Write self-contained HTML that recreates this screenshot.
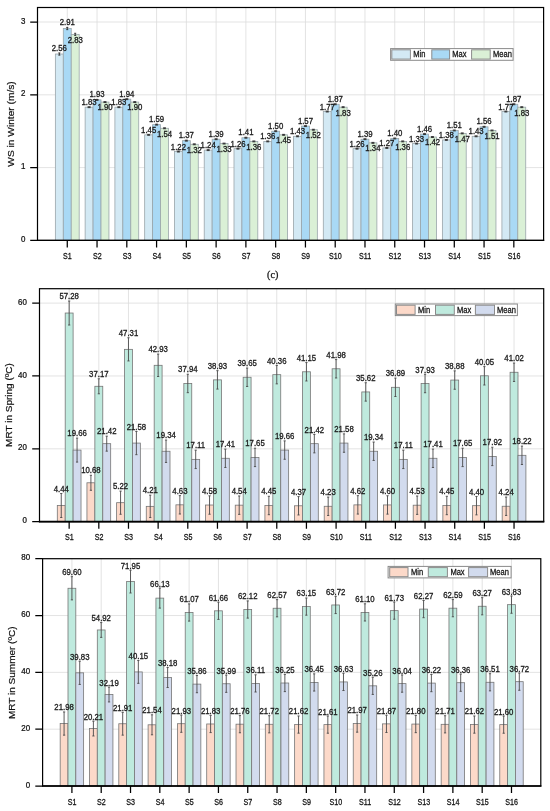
<!DOCTYPE html>
<html><head><meta charset="utf-8"><title>Figure</title>
<style>html,body{margin:0;padding:0;background:#fff}svg{display:block}</style></head>
<body><svg width="550" height="811" viewBox="0 0 550 811" font-family='"Liberation Sans", sans-serif'>
<rect width="550" height="811" fill="#fff"/>
<g>
<path d="M67.27 7.50V240.40M97.04 7.50V240.40M126.81 7.50V240.40M156.58 7.50V240.40M186.35 7.50V240.40M216.12 7.50V240.40M245.89 7.50V240.40M275.66 7.50V240.40M305.44 7.50V240.40M335.21 7.50V240.40M364.98 7.50V240.40M394.75 7.50V240.40M424.52 7.50V240.40M454.29 7.50V240.40M484.06 7.50V240.40M513.83 7.50V240.40M37.50 167.60H543.60M37.50 94.80H543.60M37.50 22.00H543.60" stroke="#dcdcdc" stroke-width="0.8" fill="none"/>
<rect x="55.36" y="54.03" width="7.94" height="186.37" fill="#d3e9f4" stroke="#9aa5aa" stroke-width="0.8"/>
<rect x="63.30" y="28.55" width="7.94" height="211.85" fill="#a9d9f5" stroke="#9aa5aa" stroke-width="0.8"/>
<rect x="71.24" y="34.38" width="7.94" height="206.02" fill="#daf0d6" stroke="#9aa5aa" stroke-width="0.8"/>
<rect x="85.13" y="107.18" width="7.94" height="133.22" fill="#d3e9f4" stroke="#9aa5aa" stroke-width="0.8"/>
<rect x="93.07" y="99.90" width="7.94" height="140.50" fill="#a9d9f5" stroke="#9aa5aa" stroke-width="0.8"/>
<rect x="101.01" y="102.08" width="7.94" height="138.32" fill="#daf0d6" stroke="#9aa5aa" stroke-width="0.8"/>
<rect x="114.90" y="107.18" width="7.94" height="133.22" fill="#d3e9f4" stroke="#9aa5aa" stroke-width="0.8"/>
<rect x="122.84" y="99.17" width="7.94" height="141.23" fill="#a9d9f5" stroke="#9aa5aa" stroke-width="0.8"/>
<rect x="130.78" y="102.08" width="7.94" height="138.32" fill="#daf0d6" stroke="#9aa5aa" stroke-width="0.8"/>
<rect x="144.67" y="134.84" width="7.94" height="105.56" fill="#d3e9f4" stroke="#9aa5aa" stroke-width="0.8"/>
<rect x="152.61" y="124.65" width="7.94" height="115.75" fill="#a9d9f5" stroke="#9aa5aa" stroke-width="0.8"/>
<rect x="160.55" y="128.29" width="7.94" height="112.11" fill="#daf0d6" stroke="#9aa5aa" stroke-width="0.8"/>
<rect x="174.44" y="151.58" width="7.94" height="88.82" fill="#d3e9f4" stroke="#9aa5aa" stroke-width="0.8"/>
<rect x="182.38" y="140.66" width="7.94" height="99.74" fill="#a9d9f5" stroke="#9aa5aa" stroke-width="0.8"/>
<rect x="190.32" y="144.30" width="7.94" height="96.10" fill="#daf0d6" stroke="#9aa5aa" stroke-width="0.8"/>
<rect x="204.22" y="150.13" width="7.94" height="90.27" fill="#d3e9f4" stroke="#9aa5aa" stroke-width="0.8"/>
<rect x="212.15" y="139.21" width="7.94" height="101.19" fill="#a9d9f5" stroke="#9aa5aa" stroke-width="0.8"/>
<rect x="220.09" y="143.58" width="7.94" height="96.82" fill="#daf0d6" stroke="#9aa5aa" stroke-width="0.8"/>
<rect x="233.99" y="148.67" width="7.94" height="91.73" fill="#d3e9f4" stroke="#9aa5aa" stroke-width="0.8"/>
<rect x="241.92" y="137.75" width="7.94" height="102.65" fill="#a9d9f5" stroke="#9aa5aa" stroke-width="0.8"/>
<rect x="249.86" y="141.39" width="7.94" height="99.01" fill="#daf0d6" stroke="#9aa5aa" stroke-width="0.8"/>
<rect x="263.76" y="141.39" width="7.94" height="99.01" fill="#d3e9f4" stroke="#9aa5aa" stroke-width="0.8"/>
<rect x="271.70" y="131.20" width="7.94" height="109.20" fill="#a9d9f5" stroke="#9aa5aa" stroke-width="0.8"/>
<rect x="279.63" y="134.84" width="7.94" height="105.56" fill="#daf0d6" stroke="#9aa5aa" stroke-width="0.8"/>
<rect x="293.53" y="136.30" width="7.94" height="104.10" fill="#d3e9f4" stroke="#9aa5aa" stroke-width="0.8"/>
<rect x="301.47" y="126.10" width="7.94" height="114.30" fill="#a9d9f5" stroke="#9aa5aa" stroke-width="0.8"/>
<rect x="309.40" y="129.74" width="7.94" height="110.66" fill="#daf0d6" stroke="#9aa5aa" stroke-width="0.8"/>
<rect x="323.30" y="111.54" width="7.94" height="128.86" fill="#d3e9f4" stroke="#9aa5aa" stroke-width="0.8"/>
<rect x="331.24" y="104.26" width="7.94" height="136.14" fill="#a9d9f5" stroke="#9aa5aa" stroke-width="0.8"/>
<rect x="339.18" y="107.18" width="7.94" height="133.22" fill="#daf0d6" stroke="#9aa5aa" stroke-width="0.8"/>
<rect x="353.07" y="148.67" width="7.94" height="91.73" fill="#d3e9f4" stroke="#9aa5aa" stroke-width="0.8"/>
<rect x="361.01" y="139.21" width="7.94" height="101.19" fill="#a9d9f5" stroke="#9aa5aa" stroke-width="0.8"/>
<rect x="368.95" y="142.85" width="7.94" height="97.55" fill="#daf0d6" stroke="#9aa5aa" stroke-width="0.8"/>
<rect x="382.84" y="147.94" width="7.94" height="92.46" fill="#d3e9f4" stroke="#9aa5aa" stroke-width="0.8"/>
<rect x="390.78" y="138.48" width="7.94" height="101.92" fill="#a9d9f5" stroke="#9aa5aa" stroke-width="0.8"/>
<rect x="398.72" y="141.39" width="7.94" height="99.01" fill="#daf0d6" stroke="#9aa5aa" stroke-width="0.8"/>
<rect x="412.61" y="143.58" width="7.94" height="96.82" fill="#d3e9f4" stroke="#9aa5aa" stroke-width="0.8"/>
<rect x="420.55" y="134.11" width="7.94" height="106.29" fill="#a9d9f5" stroke="#9aa5aa" stroke-width="0.8"/>
<rect x="428.49" y="137.02" width="7.94" height="103.38" fill="#daf0d6" stroke="#9aa5aa" stroke-width="0.8"/>
<rect x="442.38" y="139.94" width="7.94" height="100.46" fill="#d3e9f4" stroke="#9aa5aa" stroke-width="0.8"/>
<rect x="450.32" y="130.47" width="7.94" height="109.93" fill="#a9d9f5" stroke="#9aa5aa" stroke-width="0.8"/>
<rect x="458.26" y="133.38" width="7.94" height="107.02" fill="#daf0d6" stroke="#9aa5aa" stroke-width="0.8"/>
<rect x="472.15" y="136.30" width="7.94" height="104.10" fill="#d3e9f4" stroke="#9aa5aa" stroke-width="0.8"/>
<rect x="480.09" y="126.83" width="7.94" height="113.57" fill="#a9d9f5" stroke="#9aa5aa" stroke-width="0.8"/>
<rect x="488.03" y="130.47" width="7.94" height="109.93" fill="#daf0d6" stroke="#9aa5aa" stroke-width="0.8"/>
<rect x="501.92" y="111.54" width="7.94" height="128.86" fill="#d3e9f4" stroke="#9aa5aa" stroke-width="0.8"/>
<rect x="509.86" y="104.26" width="7.94" height="136.14" fill="#a9d9f5" stroke="#9aa5aa" stroke-width="0.8"/>
<rect x="517.80" y="107.18" width="7.94" height="133.22" fill="#daf0d6" stroke="#9aa5aa" stroke-width="0.8"/>
<path d="M59.33 52.93V55.13M58.33 52.93h2.00M58.33 55.13h2.00M67.27 27.45V29.65M66.27 27.45h2.00M66.27 29.65h2.00M75.21 33.28V35.48M74.21 33.28h2.00M74.21 35.48h2.00M89.10 106.73V107.63M87.60 106.73h3.00M87.60 107.63h3.00M97.04 99.45V100.35M95.54 99.45h3.00M95.54 100.35h3.00M104.98 101.63V102.53M103.48 101.63h3.00M103.48 102.53h3.00M118.87 106.73V107.63M117.37 106.73h3.00M117.37 107.63h3.00M126.81 98.72V99.62M125.31 98.72h3.00M125.31 99.62h3.00M134.75 101.63V102.53M133.25 101.63h3.00M133.25 102.53h3.00M148.64 134.39V135.29M147.14 134.39h3.00M147.14 135.29h3.00M156.58 124.20V125.10M155.08 124.20h3.00M155.08 125.10h3.00M164.52 127.84V128.74M163.02 127.84h3.00M163.02 128.74h3.00M178.41 151.13V152.03M176.91 151.13h3.00M176.91 152.03h3.00M186.35 140.21V141.11M184.85 140.21h3.00M184.85 141.11h3.00M194.29 143.85V144.75M192.79 143.85h3.00M192.79 144.75h3.00M208.18 149.68V150.58M206.68 149.68h3.00M206.68 150.58h3.00M216.12 138.76V139.66M214.62 138.76h3.00M214.62 139.66h3.00M224.06 143.13V144.03M222.56 143.13h3.00M222.56 144.03h3.00M237.96 148.22V149.12M236.46 148.22h3.00M236.46 149.12h3.00M245.89 137.30V138.20M244.39 137.30h3.00M244.39 138.20h3.00M253.83 140.94V141.84M252.33 140.94h3.00M252.33 141.84h3.00M267.73 140.94V141.84M266.23 140.94h3.00M266.23 141.84h3.00M275.66 130.75V131.65M274.16 130.75h3.00M274.16 131.65h3.00M283.60 134.39V135.29M282.10 134.39h3.00M282.10 135.29h3.00M297.50 135.85V136.75M296.00 135.85h3.00M296.00 136.75h3.00M305.44 125.65V126.55M303.94 125.65h3.00M303.94 126.55h3.00M313.37 129.29V130.19M311.87 129.29h3.00M311.87 130.19h3.00M327.27 111.09V111.99M325.77 111.09h3.00M325.77 111.99h3.00M335.21 103.81V104.71M333.71 103.81h3.00M333.71 104.71h3.00M343.14 106.73V107.63M341.64 106.73h3.00M341.64 107.63h3.00M357.04 148.22V149.12M355.54 148.22h3.00M355.54 149.12h3.00M364.98 138.76V139.66M363.48 138.76h3.00M363.48 139.66h3.00M372.92 142.40V143.30M371.42 142.40h3.00M371.42 143.30h3.00M386.81 147.49V148.39M385.31 147.49h3.00M385.31 148.39h3.00M394.75 138.03V138.93M393.25 138.03h3.00M393.25 138.93h3.00M402.69 140.94V141.84M401.19 140.94h3.00M401.19 141.84h3.00M416.58 143.13V144.03M415.08 143.13h3.00M415.08 144.03h3.00M424.52 133.66V134.56M423.02 133.66h3.00M423.02 134.56h3.00M432.46 136.57V137.47M430.96 136.57h3.00M430.96 137.47h3.00M446.35 139.49V140.39M444.85 139.49h3.00M444.85 140.39h3.00M454.29 130.02V130.92M452.79 130.02h3.00M452.79 130.92h3.00M462.23 132.93V133.83M460.73 132.93h3.00M460.73 133.83h3.00M476.12 135.85V136.75M474.62 135.85h3.00M474.62 136.75h3.00M484.06 126.38V127.28M482.56 126.38h3.00M482.56 127.28h3.00M492.00 130.02V130.92M490.50 130.02h3.00M490.50 130.92h3.00M505.89 111.09V111.99M504.39 111.09h3.00M504.39 111.99h3.00M513.83 103.81V104.71M512.33 103.81h3.00M512.33 104.71h3.00M521.77 106.73V107.63M520.27 106.73h3.00M520.27 107.63h3.00" stroke="#2a2a2a" stroke-width="0.9" fill="none"/>
<g font-size="8.2" text-anchor="middle" fill="#1a1a1a" stroke="#1a1a1a" stroke-width="0.3"><text transform="translate(59.33 50.93) scale(0.95 1)" text-anchor="middle">2.56</text><text transform="translate(67.27 25.45) scale(0.95 1)" text-anchor="middle">2.91</text><text transform="translate(75.21 42.78) scale(0.95 1)" text-anchor="middle">2.83</text><text transform="translate(89.10 105.28) scale(0.95 1)" text-anchor="middle">1.83</text><text transform="translate(97.04 97.30) scale(0.95 1)" text-anchor="middle">1.93</text><text transform="translate(104.98 110.48) scale(0.95 1)" text-anchor="middle">1.90</text><text transform="translate(118.87 105.28) scale(0.95 1)" text-anchor="middle">1.83</text><text transform="translate(126.81 96.57) scale(0.95 1)" text-anchor="middle">1.94</text><text transform="translate(134.75 110.48) scale(0.95 1)" text-anchor="middle">1.90</text><text transform="translate(148.64 132.94) scale(0.95 1)" text-anchor="middle">1.45</text><text transform="translate(156.58 122.05) scale(0.95 1)" text-anchor="middle">1.59</text><text transform="translate(164.52 136.69) scale(0.95 1)" text-anchor="middle">1.54</text><text transform="translate(178.41 149.68) scale(0.95 1)" text-anchor="middle">1.22</text><text transform="translate(186.35 138.06) scale(0.95 1)" text-anchor="middle">1.37</text><text transform="translate(194.29 152.70) scale(0.95 1)" text-anchor="middle">1.32</text><text transform="translate(208.18 148.23) scale(0.95 1)" text-anchor="middle">1.24</text><text transform="translate(216.12 136.61) scale(0.95 1)" text-anchor="middle">1.39</text><text transform="translate(224.06 151.98) scale(0.95 1)" text-anchor="middle">1.33</text><text transform="translate(237.96 146.77) scale(0.95 1)" text-anchor="middle">1.26</text><text transform="translate(245.89 135.15) scale(0.95 1)" text-anchor="middle">1.41</text><text transform="translate(253.83 149.79) scale(0.95 1)" text-anchor="middle">1.36</text><text transform="translate(267.73 139.49) scale(0.95 1)" text-anchor="middle">1.36</text><text transform="translate(275.66 128.60) scale(0.95 1)" text-anchor="middle">1.50</text><text transform="translate(283.60 143.24) scale(0.95 1)" text-anchor="middle">1.45</text><text transform="translate(297.50 134.40) scale(0.95 1)" text-anchor="middle">1.43</text><text transform="translate(305.44 123.50) scale(0.95 1)" text-anchor="middle">1.57</text><text transform="translate(313.37 138.14) scale(0.95 1)" text-anchor="middle">1.52</text><text transform="translate(327.27 109.64) scale(0.95 1)" text-anchor="middle">1.77</text><text transform="translate(335.21 101.66) scale(0.95 1)" text-anchor="middle">1.87</text><text transform="translate(343.14 115.58) scale(0.95 1)" text-anchor="middle">1.83</text><text transform="translate(357.04 146.77) scale(0.95 1)" text-anchor="middle">1.26</text><text transform="translate(364.98 136.61) scale(0.95 1)" text-anchor="middle">1.39</text><text transform="translate(372.92 151.25) scale(0.95 1)" text-anchor="middle">1.34</text><text transform="translate(386.81 146.04) scale(0.95 1)" text-anchor="middle">1.27</text><text transform="translate(394.75 135.88) scale(0.95 1)" text-anchor="middle">1.40</text><text transform="translate(402.69 149.79) scale(0.95 1)" text-anchor="middle">1.36</text><text transform="translate(416.58 141.68) scale(0.95 1)" text-anchor="middle">1.33</text><text transform="translate(424.52 131.51) scale(0.95 1)" text-anchor="middle">1.46</text><text transform="translate(432.46 145.42) scale(0.95 1)" text-anchor="middle">1.42</text><text transform="translate(446.35 138.04) scale(0.95 1)" text-anchor="middle">1.38</text><text transform="translate(454.29 127.87) scale(0.95 1)" text-anchor="middle">1.51</text><text transform="translate(462.23 141.78) scale(0.95 1)" text-anchor="middle">1.47</text><text transform="translate(476.12 134.40) scale(0.95 1)" text-anchor="middle">1.43</text><text transform="translate(484.06 124.23) scale(0.95 1)" text-anchor="middle">1.56</text><text transform="translate(492.00 138.87) scale(0.95 1)" text-anchor="middle">1.51</text><text transform="translate(505.89 109.64) scale(0.95 1)" text-anchor="middle">1.77</text><text transform="translate(513.83 101.66) scale(0.95 1)" text-anchor="middle">1.87</text><text transform="translate(521.77 115.58) scale(0.95 1)" text-anchor="middle">1.83</text></g>
<rect x="37.50" y="7.50" width="506.10" height="232.90" fill="none" stroke="#000" stroke-width="1.2"/>
<path d="M36.90 240.40H544.20" stroke="#000" stroke-width="1.3" fill="none"/>
<path d="M67.27 240.40v7M97.04 240.40v7M126.81 240.40v7M156.58 240.40v7M186.35 240.40v7M216.12 240.40v7M245.89 240.40v7M275.66 240.40v7M305.44 240.40v7M335.21 240.40v7M364.98 240.40v7M394.75 240.40v7M424.52 240.40v7M454.29 240.40v7M484.06 240.40v7M513.83 240.40v7M37.50 240.40h-7.3M37.50 167.60h-7.3M37.50 94.80h-7.3M37.50 22.00h-7.3" stroke="#000" stroke-width="1.25" fill="none"/>
<g font-size="8.2" fill="#111" stroke="#111" stroke-width="0.25"><text transform="translate(67.47 258.90) scale(0.87 1)" text-anchor="middle">S1</text><text transform="translate(97.24 258.90) scale(0.87 1)" text-anchor="middle">S2</text><text transform="translate(127.01 258.90) scale(0.87 1)" text-anchor="middle">S3</text><text transform="translate(156.78 258.90) scale(0.87 1)" text-anchor="middle">S4</text><text transform="translate(186.55 258.90) scale(0.87 1)" text-anchor="middle">S5</text><text transform="translate(216.32 258.90) scale(0.87 1)" text-anchor="middle">S6</text><text transform="translate(246.09 258.90) scale(0.87 1)" text-anchor="middle">S7</text><text transform="translate(275.86 258.90) scale(0.87 1)" text-anchor="middle">S8</text><text transform="translate(305.64 258.90) scale(0.87 1)" text-anchor="middle">S9</text><text transform="translate(335.41 258.90) scale(0.87 1)" text-anchor="middle">S10</text><text transform="translate(365.18 258.90) scale(0.87 1)" text-anchor="middle">S11</text><text transform="translate(394.95 258.90) scale(0.87 1)" text-anchor="middle">S12</text><text transform="translate(424.72 258.90) scale(0.87 1)" text-anchor="middle">S13</text><text transform="translate(454.49 258.90) scale(0.87 1)" text-anchor="middle">S14</text><text transform="translate(484.26 258.90) scale(0.87 1)" text-anchor="middle">S15</text><text transform="translate(514.03 258.90) scale(0.87 1)" text-anchor="middle">S16</text><text transform="translate(25.50 242.00) scale(0.97 1)" text-anchor="end">0</text><text transform="translate(25.50 169.20) scale(0.97 1)" text-anchor="end">1</text><text transform="translate(25.50 96.40) scale(0.97 1)" text-anchor="end">2</text><text transform="translate(25.50 23.60) scale(0.97 1)" text-anchor="end">3</text></g>
<text transform="translate(14.30 124.00) rotate(-90) scale(1.07 1)" text-anchor="middle" font-size="9.53" fill="#111" stroke="#111" stroke-width="0.2">WS in Winter (m/s)</text>
<rect x="390.60" y="48.60" width="122.50" height="11.70" fill="#fff" stroke="#8a8a8a" stroke-width="1"/>
<rect x="391.80" y="49.80" width="18.60" height="9.30" fill="#d3e9f4" stroke="#8a8a8a" stroke-width="1"/>
<text transform="translate(413.20 57.30) scale(0.92 1)" font-size="8.2" fill="#111" stroke="#111" stroke-width="0.25">Min</text>
<rect x="431.80" y="49.80" width="17.80" height="9.30" fill="#a9d9f5" stroke="#8a8a8a" stroke-width="1"/>
<text transform="translate(452.20 57.30) scale(0.92 1)" font-size="8.2" fill="#111" stroke="#111" stroke-width="0.25">Max</text>
<rect x="471.60" y="49.80" width="18.60" height="9.30" fill="#daf0d6" stroke="#8a8a8a" stroke-width="1"/>
<text transform="translate(493.00 57.30) scale(0.92 1)" font-size="8.2" fill="#111" stroke="#111" stroke-width="0.25">Mean</text>
</g>
<g>
<path d="M69.16 288.70V521.70M98.82 288.70V521.70M128.48 288.70V521.70M158.14 288.70V521.70M187.79 288.70V521.70M217.45 288.70V521.70M247.11 288.70V521.70M276.77 288.70V521.70M306.43 288.70V521.70M336.09 288.70V521.70M365.75 288.70V521.70M395.41 288.70V521.70M425.06 288.70V521.70M454.72 288.70V521.70M484.38 288.70V521.70M514.04 288.70V521.70M39.50 448.84H543.70M39.50 375.98H543.70M39.50 303.12H543.70" stroke="#dcdcdc" stroke-width="0.8" fill="none"/>
<rect x="57.30" y="505.53" width="7.91" height="16.17" fill="#fcd9c9" stroke="#767676" stroke-width="0.8"/>
<rect x="65.20" y="313.03" width="7.91" height="208.67" fill="#bfeade" stroke="#767676" stroke-width="0.8"/>
<rect x="73.11" y="450.08" width="7.91" height="71.62" fill="#d2dbee" stroke="#767676" stroke-width="0.8"/>
<rect x="86.95" y="482.79" width="7.91" height="38.91" fill="#fcd9c9" stroke="#767676" stroke-width="0.8"/>
<rect x="94.86" y="386.29" width="7.91" height="135.41" fill="#bfeade" stroke="#767676" stroke-width="0.8"/>
<rect x="102.77" y="443.67" width="7.91" height="78.03" fill="#d2dbee" stroke="#767676" stroke-width="0.8"/>
<rect x="116.61" y="502.68" width="7.91" height="19.02" fill="#fcd9c9" stroke="#767676" stroke-width="0.8"/>
<rect x="124.52" y="349.35" width="7.91" height="172.35" fill="#bfeade" stroke="#767676" stroke-width="0.8"/>
<rect x="132.43" y="443.08" width="7.91" height="78.62" fill="#d2dbee" stroke="#767676" stroke-width="0.8"/>
<rect x="146.27" y="506.36" width="7.91" height="15.34" fill="#fcd9c9" stroke="#767676" stroke-width="0.8"/>
<rect x="154.18" y="365.31" width="7.91" height="156.39" fill="#bfeade" stroke="#767676" stroke-width="0.8"/>
<rect x="162.09" y="451.24" width="7.91" height="70.46" fill="#d2dbee" stroke="#767676" stroke-width="0.8"/>
<rect x="175.93" y="504.83" width="7.91" height="16.87" fill="#fcd9c9" stroke="#767676" stroke-width="0.8"/>
<rect x="183.84" y="383.48" width="7.91" height="138.22" fill="#bfeade" stroke="#767676" stroke-width="0.8"/>
<rect x="191.75" y="459.37" width="7.91" height="62.33" fill="#d2dbee" stroke="#767676" stroke-width="0.8"/>
<rect x="205.59" y="505.02" width="7.91" height="16.68" fill="#fcd9c9" stroke="#767676" stroke-width="0.8"/>
<rect x="213.50" y="379.88" width="7.91" height="141.82" fill="#bfeade" stroke="#767676" stroke-width="0.8"/>
<rect x="221.41" y="458.28" width="7.91" height="63.42" fill="#d2dbee" stroke="#767676" stroke-width="0.8"/>
<rect x="235.25" y="505.16" width="7.91" height="16.54" fill="#fcd9c9" stroke="#767676" stroke-width="0.8"/>
<rect x="243.16" y="377.26" width="7.91" height="144.44" fill="#bfeade" stroke="#767676" stroke-width="0.8"/>
<rect x="251.07" y="457.40" width="7.91" height="64.30" fill="#d2dbee" stroke="#767676" stroke-width="0.8"/>
<rect x="264.91" y="505.49" width="7.91" height="16.21" fill="#fcd9c9" stroke="#767676" stroke-width="0.8"/>
<rect x="272.82" y="374.67" width="7.91" height="147.03" fill="#bfeade" stroke="#767676" stroke-width="0.8"/>
<rect x="280.73" y="450.08" width="7.91" height="71.62" fill="#d2dbee" stroke="#767676" stroke-width="0.8"/>
<rect x="294.57" y="505.78" width="7.91" height="15.92" fill="#fcd9c9" stroke="#767676" stroke-width="0.8"/>
<rect x="302.47" y="371.79" width="7.91" height="149.91" fill="#bfeade" stroke="#767676" stroke-width="0.8"/>
<rect x="310.38" y="443.67" width="7.91" height="78.03" fill="#d2dbee" stroke="#767676" stroke-width="0.8"/>
<rect x="324.22" y="506.29" width="7.91" height="15.41" fill="#fcd9c9" stroke="#767676" stroke-width="0.8"/>
<rect x="332.13" y="368.77" width="7.91" height="152.93" fill="#bfeade" stroke="#767676" stroke-width="0.8"/>
<rect x="340.04" y="443.08" width="7.91" height="78.62" fill="#d2dbee" stroke="#767676" stroke-width="0.8"/>
<rect x="353.88" y="504.87" width="7.91" height="16.83" fill="#fcd9c9" stroke="#767676" stroke-width="0.8"/>
<rect x="361.79" y="391.94" width="7.91" height="129.76" fill="#bfeade" stroke="#767676" stroke-width="0.8"/>
<rect x="369.70" y="451.24" width="7.91" height="70.46" fill="#d2dbee" stroke="#767676" stroke-width="0.8"/>
<rect x="383.54" y="504.94" width="7.91" height="16.76" fill="#fcd9c9" stroke="#767676" stroke-width="0.8"/>
<rect x="391.45" y="387.31" width="7.91" height="134.39" fill="#bfeade" stroke="#767676" stroke-width="0.8"/>
<rect x="399.36" y="459.37" width="7.91" height="62.33" fill="#d2dbee" stroke="#767676" stroke-width="0.8"/>
<rect x="413.20" y="505.20" width="7.91" height="16.50" fill="#fcd9c9" stroke="#767676" stroke-width="0.8"/>
<rect x="421.11" y="383.52" width="7.91" height="138.18" fill="#bfeade" stroke="#767676" stroke-width="0.8"/>
<rect x="429.02" y="458.28" width="7.91" height="63.42" fill="#d2dbee" stroke="#767676" stroke-width="0.8"/>
<rect x="442.86" y="505.49" width="7.91" height="16.21" fill="#fcd9c9" stroke="#767676" stroke-width="0.8"/>
<rect x="450.77" y="380.06" width="7.91" height="141.64" fill="#bfeade" stroke="#767676" stroke-width="0.8"/>
<rect x="458.68" y="457.40" width="7.91" height="64.30" fill="#d2dbee" stroke="#767676" stroke-width="0.8"/>
<rect x="472.52" y="505.67" width="7.91" height="16.03" fill="#fcd9c9" stroke="#767676" stroke-width="0.8"/>
<rect x="480.43" y="375.80" width="7.91" height="145.90" fill="#bfeade" stroke="#767676" stroke-width="0.8"/>
<rect x="488.34" y="456.42" width="7.91" height="65.28" fill="#d2dbee" stroke="#767676" stroke-width="0.8"/>
<rect x="502.18" y="506.25" width="7.91" height="15.45" fill="#fcd9c9" stroke="#767676" stroke-width="0.8"/>
<rect x="510.09" y="372.26" width="7.91" height="149.44" fill="#bfeade" stroke="#767676" stroke-width="0.8"/>
<rect x="518.00" y="455.32" width="7.91" height="66.38" fill="#d2dbee" stroke="#767676" stroke-width="0.8"/>
<path d="M61.25 493.53V517.53M60.15 493.53h2.20M60.15 517.53h2.20M69.16 301.03V325.03M68.06 301.03h2.20M68.06 325.03h2.20M77.07 438.08V462.08M75.97 438.08h2.20M75.97 462.08h2.20M90.91 475.29V490.29M89.81 475.29h2.20M89.81 490.29h2.20M98.82 378.79V393.79M97.72 378.79h2.20M97.72 393.79h2.20M106.73 436.17V451.17M105.63 436.17h2.20M105.63 451.17h2.20M120.57 491.08V514.28M119.47 491.08h2.20M119.47 514.28h2.20M128.48 337.75V360.95M127.38 337.75h2.20M127.38 360.95h2.20M136.39 431.48V454.68M135.29 431.48h2.20M135.29 454.68h2.20M150.23 495.16V517.56M149.13 495.16h2.20M149.13 517.56h2.20M158.14 354.11V376.51M157.04 354.11h2.20M157.04 376.51h2.20M166.04 440.04V462.44M164.94 440.04h2.20M164.94 462.44h2.20M179.89 495.63V514.03M178.79 495.63h2.20M178.79 514.03h2.20M187.79 374.28V392.68M186.69 374.28h2.20M186.69 392.68h2.20M195.70 450.17V468.57M194.60 450.17h2.20M194.60 468.57h2.20M209.54 495.82V514.22M208.44 495.82h2.20M208.44 514.22h2.20M217.45 370.68V389.08M216.35 370.68h2.20M216.35 389.08h2.20M225.36 449.08V467.48M224.26 449.08h2.20M224.26 467.48h2.20M239.20 495.96V514.36M238.10 495.96h2.20M238.10 514.36h2.20M247.11 368.06V386.46M246.01 368.06h2.20M246.01 386.46h2.20M255.02 448.20V466.60M253.92 448.20h2.20M253.92 466.60h2.20M268.86 496.29V514.69M267.76 496.29h2.20M267.76 514.69h2.20M276.77 365.47V383.87M275.67 365.47h2.20M275.67 383.87h2.20M284.68 440.88V459.28M283.58 440.88h2.20M283.58 459.28h2.20M298.52 496.58V514.98M297.42 496.58h2.20M297.42 514.98h2.20M306.43 362.59V380.99M305.33 362.59h2.20M305.33 380.99h2.20M314.34 434.47V452.87M313.24 434.47h2.20M313.24 452.87h2.20M328.18 497.09V515.49M327.08 497.09h2.20M327.08 515.49h2.20M336.09 359.57V377.97M334.99 359.57h2.20M334.99 377.97h2.20M344.00 433.88V452.28M342.90 433.88h2.20M342.90 452.28h2.20M357.84 495.67V514.07M356.74 495.67h2.20M356.74 514.07h2.20M365.75 382.74V401.14M364.65 382.74h2.20M364.65 401.14h2.20M373.66 442.04V460.44M372.56 442.04h2.20M372.56 460.44h2.20M387.50 495.74V514.14M386.40 495.74h2.20M386.40 514.14h2.20M395.41 378.11V396.51M394.31 378.11h2.20M394.31 396.51h2.20M403.31 450.17V468.57M402.21 450.17h2.20M402.21 468.57h2.20M417.16 496.00V514.40M416.06 496.00h2.20M416.06 514.40h2.20M425.06 374.32V392.72M423.96 374.32h2.20M423.96 392.72h2.20M432.97 449.08V467.48M431.87 449.08h2.20M431.87 467.48h2.20M446.81 496.29V514.69M445.71 496.29h2.20M445.71 514.69h2.20M454.72 370.86V389.26M453.62 370.86h2.20M453.62 389.26h2.20M462.63 448.20V466.60M461.53 448.20h2.20M461.53 466.60h2.20M476.47 496.47V514.87M475.37 496.47h2.20M475.37 514.87h2.20M484.38 366.60V385.00M483.28 366.60h2.20M483.28 385.00h2.20M492.29 447.22V465.62M491.19 447.22h2.20M491.19 465.62h2.20M506.13 497.05V515.45M505.03 497.05h2.20M505.03 515.45h2.20M514.04 363.06V381.46M512.94 363.06h2.20M512.94 381.46h2.20M521.95 446.12V464.52M520.85 446.12h2.20M520.85 464.52h2.20" stroke="#4a4a4a" stroke-width="0.9" fill="none"/>
<g font-size="8.2" text-anchor="middle" fill="#1a1a1a" stroke="#1a1a1a" stroke-width="0.3"><text transform="translate(61.25 491.73) scale(0.95 1)" text-anchor="middle">4.44</text><text transform="translate(69.16 299.23) scale(0.95 1)" text-anchor="middle">57.28</text><text transform="translate(77.07 436.28) scale(0.95 1)" text-anchor="middle">19.66</text><text transform="translate(90.91 473.49) scale(0.95 1)" text-anchor="middle">10.68</text><text transform="translate(98.82 376.99) scale(0.95 1)" text-anchor="middle">37.17</text><text transform="translate(106.73 434.37) scale(0.95 1)" text-anchor="middle">21.42</text><text transform="translate(120.57 489.28) scale(0.95 1)" text-anchor="middle">5.22</text><text transform="translate(128.48 335.95) scale(0.95 1)" text-anchor="middle">47.31</text><text transform="translate(136.39 429.68) scale(0.95 1)" text-anchor="middle">21.58</text><text transform="translate(150.23 493.36) scale(0.95 1)" text-anchor="middle">4.21</text><text transform="translate(158.14 352.31) scale(0.95 1)" text-anchor="middle">42.93</text><text transform="translate(166.04 438.24) scale(0.95 1)" text-anchor="middle">19.34</text><text transform="translate(179.89 493.83) scale(0.95 1)" text-anchor="middle">4.63</text><text transform="translate(187.79 372.48) scale(0.95 1)" text-anchor="middle">37.94</text><text transform="translate(195.70 448.37) scale(0.95 1)" text-anchor="middle">17.11</text><text transform="translate(209.54 494.02) scale(0.95 1)" text-anchor="middle">4.58</text><text transform="translate(217.45 368.88) scale(0.95 1)" text-anchor="middle">38.93</text><text transform="translate(225.36 447.28) scale(0.95 1)" text-anchor="middle">17.41</text><text transform="translate(239.20 494.16) scale(0.95 1)" text-anchor="middle">4.54</text><text transform="translate(247.11 366.26) scale(0.95 1)" text-anchor="middle">39.65</text><text transform="translate(255.02 446.40) scale(0.95 1)" text-anchor="middle">17.65</text><text transform="translate(268.86 494.49) scale(0.95 1)" text-anchor="middle">4.45</text><text transform="translate(276.77 363.67) scale(0.95 1)" text-anchor="middle">40.36</text><text transform="translate(284.68 439.08) scale(0.95 1)" text-anchor="middle">19.66</text><text transform="translate(298.52 494.78) scale(0.95 1)" text-anchor="middle">4.37</text><text transform="translate(306.43 360.79) scale(0.95 1)" text-anchor="middle">41.15</text><text transform="translate(314.34 432.67) scale(0.95 1)" text-anchor="middle">21.42</text><text transform="translate(328.18 495.29) scale(0.95 1)" text-anchor="middle">4.23</text><text transform="translate(336.09 357.77) scale(0.95 1)" text-anchor="middle">41.98</text><text transform="translate(344.00 432.08) scale(0.95 1)" text-anchor="middle">21.58</text><text transform="translate(357.84 493.87) scale(0.95 1)" text-anchor="middle">4.62</text><text transform="translate(365.75 380.94) scale(0.95 1)" text-anchor="middle">35.62</text><text transform="translate(373.66 440.24) scale(0.95 1)" text-anchor="middle">19.34</text><text transform="translate(387.50 493.94) scale(0.95 1)" text-anchor="middle">4.60</text><text transform="translate(395.41 376.31) scale(0.95 1)" text-anchor="middle">36.89</text><text transform="translate(403.31 448.37) scale(0.95 1)" text-anchor="middle">17.11</text><text transform="translate(417.16 494.20) scale(0.95 1)" text-anchor="middle">4.53</text><text transform="translate(425.06 372.52) scale(0.95 1)" text-anchor="middle">37.93</text><text transform="translate(432.97 447.28) scale(0.95 1)" text-anchor="middle">17.41</text><text transform="translate(446.81 494.49) scale(0.95 1)" text-anchor="middle">4.45</text><text transform="translate(454.72 369.06) scale(0.95 1)" text-anchor="middle">38.88</text><text transform="translate(462.63 446.40) scale(0.95 1)" text-anchor="middle">17.65</text><text transform="translate(476.47 494.67) scale(0.95 1)" text-anchor="middle">4.40</text><text transform="translate(484.38 364.80) scale(0.95 1)" text-anchor="middle">40.05</text><text transform="translate(492.29 445.42) scale(0.95 1)" text-anchor="middle">17.92</text><text transform="translate(506.13 495.25) scale(0.95 1)" text-anchor="middle">4.24</text><text transform="translate(514.04 361.26) scale(0.95 1)" text-anchor="middle">41.02</text><text transform="translate(521.95 444.32) scale(0.95 1)" text-anchor="middle">18.22</text></g>
<rect x="39.50" y="288.70" width="504.20" height="233.00" fill="none" stroke="#000" stroke-width="1.2"/>
<path d="M38.90 521.70H544.30" stroke="#000" stroke-width="1.7" fill="none"/>
<path d="M69.16 521.70v7M98.82 521.70v7M128.48 521.70v7M158.14 521.70v7M187.79 521.70v7M217.45 521.70v7M247.11 521.70v7M276.77 521.70v7M306.43 521.70v7M336.09 521.70v7M365.75 521.70v7M395.41 521.70v7M425.06 521.70v7M454.72 521.70v7M484.38 521.70v7M514.04 521.70v7M39.50 521.70h-7.3M39.50 448.84h-7.3M39.50 375.98h-7.3M39.50 303.12h-7.3" stroke="#000" stroke-width="1.25" fill="none"/>
<g font-size="8.2" fill="#111" stroke="#111" stroke-width="0.25"><text transform="translate(69.36 540.20) scale(0.87 1)" text-anchor="middle">S1</text><text transform="translate(99.02 540.20) scale(0.87 1)" text-anchor="middle">S2</text><text transform="translate(128.68 540.20) scale(0.87 1)" text-anchor="middle">S3</text><text transform="translate(158.34 540.20) scale(0.87 1)" text-anchor="middle">S4</text><text transform="translate(187.99 540.20) scale(0.87 1)" text-anchor="middle">S5</text><text transform="translate(217.65 540.20) scale(0.87 1)" text-anchor="middle">S6</text><text transform="translate(247.31 540.20) scale(0.87 1)" text-anchor="middle">S7</text><text transform="translate(276.97 540.20) scale(0.87 1)" text-anchor="middle">S8</text><text transform="translate(306.63 540.20) scale(0.87 1)" text-anchor="middle">S9</text><text transform="translate(336.29 540.20) scale(0.87 1)" text-anchor="middle">S10</text><text transform="translate(365.95 540.20) scale(0.87 1)" text-anchor="middle">S11</text><text transform="translate(395.61 540.20) scale(0.87 1)" text-anchor="middle">S12</text><text transform="translate(425.26 540.20) scale(0.87 1)" text-anchor="middle">S13</text><text transform="translate(454.92 540.20) scale(0.87 1)" text-anchor="middle">S14</text><text transform="translate(484.58 540.20) scale(0.87 1)" text-anchor="middle">S15</text><text transform="translate(514.24 540.20) scale(0.87 1)" text-anchor="middle">S16</text><text transform="translate(26.90 523.30) scale(0.97 1)" text-anchor="end">0</text><text transform="translate(26.90 450.44) scale(0.97 1)" text-anchor="end">20</text><text transform="translate(26.90 377.58) scale(0.97 1)" text-anchor="end">40</text><text transform="translate(26.90 304.72) scale(0.97 1)" text-anchor="end">60</text></g>
<text transform="translate(11.70 405.00) rotate(-90) scale(1.07 1)" text-anchor="middle" font-size="9.35" fill="#111" stroke="#111" stroke-width="0.2">MRT in Spring (ºC)</text>
<rect x="395.30" y="304.00" width="122.10" height="11.60" fill="#fff" stroke="#8a8a8a" stroke-width="1"/>
<rect x="396.50" y="305.20" width="18.60" height="9.20" fill="#fcd9c9" stroke="#8a8a8a" stroke-width="1"/>
<text transform="translate(418.00 312.65) scale(0.92 1)" font-size="8.2" fill="#111" stroke="#111" stroke-width="0.25">Min</text>
<rect x="435.50" y="305.20" width="18.80" height="9.20" fill="#bfeade" stroke="#8a8a8a" stroke-width="1"/>
<text transform="translate(457.00 312.65) scale(0.92 1)" font-size="8.2" fill="#111" stroke="#111" stroke-width="0.25">Max</text>
<rect x="475.40" y="305.20" width="19.10" height="9.20" fill="#d2dbee" stroke="#8a8a8a" stroke-width="1"/>
<text transform="translate(497.00 312.65) scale(0.92 1)" font-size="8.2" fill="#111" stroke="#111" stroke-width="0.25">Mean</text>
</g>
<g>
<path d="M71.91 558.70V786.00M101.21 558.70V786.00M130.52 558.70V786.00M159.82 558.70V786.00M189.13 558.70V786.00M218.44 558.70V786.00M247.74 558.70V786.00M277.05 558.70V786.00M306.35 558.70V786.00M335.66 558.70V786.00M364.96 558.70V786.00M394.27 558.70V786.00M423.58 558.70V786.00M452.88 558.70V786.00M482.19 558.70V786.00M511.49 558.70V786.00M42.60 729.18H540.80M42.60 672.36H540.80M42.60 615.54H540.80" stroke="#dcdcdc" stroke-width="0.8" fill="none"/>
<rect x="60.18" y="723.55" width="7.81" height="62.45" fill="#fcd9c9" stroke="#767676" stroke-width="0.8"/>
<rect x="68.00" y="588.27" width="7.81" height="197.73" fill="#bfeade" stroke="#767676" stroke-width="0.8"/>
<rect x="75.81" y="672.84" width="7.81" height="113.16" fill="#d2dbee" stroke="#767676" stroke-width="0.8"/>
<rect x="89.49" y="728.58" width="7.81" height="57.42" fill="#fcd9c9" stroke="#767676" stroke-width="0.8"/>
<rect x="97.30" y="629.97" width="7.81" height="156.03" fill="#bfeade" stroke="#767676" stroke-width="0.8"/>
<rect x="105.12" y="694.55" width="7.81" height="91.45" fill="#d2dbee" stroke="#767676" stroke-width="0.8"/>
<rect x="118.80" y="723.75" width="7.81" height="62.25" fill="#fcd9c9" stroke="#767676" stroke-width="0.8"/>
<rect x="126.61" y="581.59" width="7.81" height="204.41" fill="#bfeade" stroke="#767676" stroke-width="0.8"/>
<rect x="134.43" y="671.93" width="7.81" height="114.07" fill="#d2dbee" stroke="#767676" stroke-width="0.8"/>
<rect x="148.10" y="724.80" width="7.81" height="61.20" fill="#fcd9c9" stroke="#767676" stroke-width="0.8"/>
<rect x="155.92" y="598.12" width="7.81" height="187.88" fill="#bfeade" stroke="#767676" stroke-width="0.8"/>
<rect x="163.73" y="677.53" width="7.81" height="108.47" fill="#d2dbee" stroke="#767676" stroke-width="0.8"/>
<rect x="177.41" y="723.70" width="7.81" height="62.30" fill="#fcd9c9" stroke="#767676" stroke-width="0.8"/>
<rect x="185.22" y="612.50" width="7.81" height="173.50" fill="#bfeade" stroke="#767676" stroke-width="0.8"/>
<rect x="193.04" y="684.12" width="7.81" height="101.88" fill="#d2dbee" stroke="#767676" stroke-width="0.8"/>
<rect x="206.71" y="723.98" width="7.81" height="62.02" fill="#fcd9c9" stroke="#767676" stroke-width="0.8"/>
<rect x="214.53" y="610.82" width="7.81" height="175.18" fill="#bfeade" stroke="#767676" stroke-width="0.8"/>
<rect x="222.34" y="683.75" width="7.81" height="102.25" fill="#d2dbee" stroke="#767676" stroke-width="0.8"/>
<rect x="236.02" y="724.18" width="7.81" height="61.82" fill="#fcd9c9" stroke="#767676" stroke-width="0.8"/>
<rect x="243.83" y="609.52" width="7.81" height="176.48" fill="#bfeade" stroke="#767676" stroke-width="0.8"/>
<rect x="251.65" y="683.41" width="7.81" height="102.59" fill="#d2dbee" stroke="#767676" stroke-width="0.8"/>
<rect x="265.32" y="724.29" width="7.81" height="61.71" fill="#fcd9c9" stroke="#767676" stroke-width="0.8"/>
<rect x="273.14" y="608.24" width="7.81" height="177.76" fill="#bfeade" stroke="#767676" stroke-width="0.8"/>
<rect x="280.95" y="683.01" width="7.81" height="102.99" fill="#d2dbee" stroke="#767676" stroke-width="0.8"/>
<rect x="294.63" y="724.58" width="7.81" height="61.42" fill="#fcd9c9" stroke="#767676" stroke-width="0.8"/>
<rect x="302.45" y="606.59" width="7.81" height="179.41" fill="#bfeade" stroke="#767676" stroke-width="0.8"/>
<rect x="310.26" y="682.45" width="7.81" height="103.55" fill="#d2dbee" stroke="#767676" stroke-width="0.8"/>
<rect x="323.94" y="724.61" width="7.81" height="61.39" fill="#fcd9c9" stroke="#767676" stroke-width="0.8"/>
<rect x="331.75" y="604.97" width="7.81" height="181.03" fill="#bfeade" stroke="#767676" stroke-width="0.8"/>
<rect x="339.57" y="681.93" width="7.81" height="104.07" fill="#d2dbee" stroke="#767676" stroke-width="0.8"/>
<rect x="353.24" y="723.58" width="7.81" height="62.42" fill="#fcd9c9" stroke="#767676" stroke-width="0.8"/>
<rect x="361.06" y="612.41" width="7.81" height="173.59" fill="#bfeade" stroke="#767676" stroke-width="0.8"/>
<rect x="368.87" y="685.83" width="7.81" height="100.17" fill="#d2dbee" stroke="#767676" stroke-width="0.8"/>
<rect x="382.55" y="723.87" width="7.81" height="62.13" fill="#fcd9c9" stroke="#767676" stroke-width="0.8"/>
<rect x="390.36" y="610.63" width="7.81" height="175.37" fill="#bfeade" stroke="#767676" stroke-width="0.8"/>
<rect x="398.18" y="683.61" width="7.81" height="102.39" fill="#d2dbee" stroke="#767676" stroke-width="0.8"/>
<rect x="411.85" y="724.07" width="7.81" height="61.93" fill="#fcd9c9" stroke="#767676" stroke-width="0.8"/>
<rect x="419.67" y="609.09" width="7.81" height="176.91" fill="#bfeade" stroke="#767676" stroke-width="0.8"/>
<rect x="427.48" y="683.10" width="7.81" height="102.90" fill="#d2dbee" stroke="#767676" stroke-width="0.8"/>
<rect x="441.16" y="724.32" width="7.81" height="61.68" fill="#fcd9c9" stroke="#767676" stroke-width="0.8"/>
<rect x="448.97" y="608.18" width="7.81" height="177.82" fill="#bfeade" stroke="#767676" stroke-width="0.8"/>
<rect x="456.79" y="682.70" width="7.81" height="103.30" fill="#d2dbee" stroke="#767676" stroke-width="0.8"/>
<rect x="470.47" y="724.58" width="7.81" height="61.42" fill="#fcd9c9" stroke="#767676" stroke-width="0.8"/>
<rect x="478.28" y="606.25" width="7.81" height="179.75" fill="#bfeade" stroke="#767676" stroke-width="0.8"/>
<rect x="486.10" y="682.28" width="7.81" height="103.72" fill="#d2dbee" stroke="#767676" stroke-width="0.8"/>
<rect x="499.77" y="724.63" width="7.81" height="61.37" fill="#fcd9c9" stroke="#767676" stroke-width="0.8"/>
<rect x="507.59" y="604.66" width="7.81" height="181.34" fill="#bfeade" stroke="#767676" stroke-width="0.8"/>
<rect x="515.40" y="681.68" width="7.81" height="104.32" fill="#d2dbee" stroke="#767676" stroke-width="0.8"/>
<path d="M64.09 711.95V735.15M62.99 711.95h2.20M62.99 735.15h2.20M71.91 576.67V599.87M70.81 576.67h2.20M70.81 599.87h2.20M79.72 661.24V684.44M78.62 661.24h2.20M78.62 684.44h2.20M93.40 721.18V735.98M92.30 721.18h2.20M92.30 735.98h2.20M101.21 622.57V637.37M100.11 622.57h2.20M100.11 637.37h2.20M109.03 687.15V701.95M107.93 687.15h2.20M107.93 701.95h2.20M122.70 712.35V735.15M121.60 712.35h2.20M121.60 735.15h2.20M130.52 570.19V592.99M129.42 570.19h2.20M129.42 592.99h2.20M138.33 660.53V683.33M137.23 660.53h2.20M137.23 683.33h2.20M152.01 714.80V734.80M150.91 714.80h2.20M150.91 734.80h2.20M159.82 588.12V608.12M158.72 588.12h2.20M158.72 608.12h2.20M167.64 667.53V687.53M166.54 667.53h2.20M166.54 687.53h2.20M181.31 715.10V732.30M180.21 715.10h2.20M180.21 732.30h2.20M189.13 603.90V621.10M188.03 603.90h2.20M188.03 621.10h2.20M196.94 675.52V692.72M195.84 675.52h2.20M195.84 692.72h2.20M210.62 715.38V732.58M209.52 715.38h2.20M209.52 732.58h2.20M218.44 602.22V619.42M217.34 602.22h2.20M217.34 619.42h2.20M226.25 675.15V692.35M225.15 675.15h2.20M225.15 692.35h2.20M239.93 715.58V732.78M238.83 715.58h2.20M238.83 732.78h2.20M247.74 600.92V618.12M246.64 600.92h2.20M246.64 618.12h2.20M255.56 674.81V692.01M254.46 674.81h2.20M254.46 692.01h2.20M269.23 715.69V732.89M268.13 715.69h2.20M268.13 732.89h2.20M277.05 599.64V616.84M275.95 599.64h2.20M275.95 616.84h2.20M284.86 674.41V691.61M283.76 674.41h2.20M283.76 691.61h2.20M298.54 715.98V733.18M297.44 715.98h2.20M297.44 733.18h2.20M306.35 597.99V615.19M305.25 597.99h2.20M305.25 615.19h2.20M314.17 673.85V691.05M313.07 673.85h2.20M313.07 691.05h2.20M327.84 716.01V733.21M326.74 716.01h2.20M326.74 733.21h2.20M335.66 596.37V613.57M334.56 596.37h2.20M334.56 613.57h2.20M343.47 673.33V690.53M342.37 673.33h2.20M342.37 690.53h2.20M357.15 714.98V732.18M356.05 714.98h2.20M356.05 732.18h2.20M364.96 603.81V621.01M363.86 603.81h2.20M363.86 621.01h2.20M372.78 677.23V694.43M371.68 677.23h2.20M371.68 694.43h2.20M386.46 715.27V732.47M385.36 715.27h2.20M385.36 732.47h2.20M394.27 602.03V619.23M393.17 602.03h2.20M393.17 619.23h2.20M402.09 675.01V692.21M400.99 675.01h2.20M400.99 692.21h2.20M415.76 715.47V732.67M414.66 715.47h2.20M414.66 732.67h2.20M423.58 600.49V617.69M422.48 600.49h2.20M422.48 617.69h2.20M431.39 674.50V691.70M430.29 674.50h2.20M430.29 691.70h2.20M445.07 715.72V732.92M443.97 715.72h2.20M443.97 732.92h2.20M452.88 599.58V616.78M451.78 599.58h2.20M451.78 616.78h2.20M460.70 674.10V691.30M459.60 674.10h2.20M459.60 691.30h2.20M474.37 715.98V733.18M473.27 715.98h2.20M473.27 733.18h2.20M482.19 597.65V614.85M481.09 597.65h2.20M481.09 614.85h2.20M490.00 673.68V690.88M488.90 673.68h2.20M488.90 690.88h2.20M503.68 716.03V733.23M502.58 716.03h2.20M502.58 733.23h2.20M511.49 596.06V613.26M510.39 596.06h2.20M510.39 613.26h2.20M519.31 673.08V690.28M518.21 673.08h2.20M518.21 690.28h2.20" stroke="#4a4a4a" stroke-width="0.9" fill="none"/>
<g font-size="8.2" text-anchor="middle" fill="#1a1a1a" stroke="#1a1a1a" stroke-width="0.3"><text transform="translate(64.09 710.45) scale(0.95 1)" text-anchor="middle">21.98</text><text transform="translate(71.91 575.17) scale(0.95 1)" text-anchor="middle">69.60</text><text transform="translate(79.72 659.74) scale(0.95 1)" text-anchor="middle">39.83</text><text transform="translate(93.40 719.68) scale(0.95 1)" text-anchor="middle">20.21</text><text transform="translate(101.21 621.07) scale(0.95 1)" text-anchor="middle">54.92</text><text transform="translate(109.03 685.65) scale(0.95 1)" text-anchor="middle">32.19</text><text transform="translate(122.70 710.85) scale(0.95 1)" text-anchor="middle">21.91</text><text transform="translate(130.52 568.69) scale(0.95 1)" text-anchor="middle">71.95</text><text transform="translate(138.33 659.03) scale(0.95 1)" text-anchor="middle">40.15</text><text transform="translate(152.01 713.30) scale(0.95 1)" text-anchor="middle">21.54</text><text transform="translate(159.82 586.62) scale(0.95 1)" text-anchor="middle">66.13</text><text transform="translate(167.64 666.03) scale(0.95 1)" text-anchor="middle">38.18</text><text transform="translate(181.31 713.60) scale(0.95 1)" text-anchor="middle">21.93</text><text transform="translate(189.13 602.40) scale(0.95 1)" text-anchor="middle">61.07</text><text transform="translate(196.94 674.02) scale(0.95 1)" text-anchor="middle">35.86</text><text transform="translate(210.62 713.88) scale(0.95 1)" text-anchor="middle">21.83</text><text transform="translate(218.44 600.72) scale(0.95 1)" text-anchor="middle">61.66</text><text transform="translate(226.25 673.65) scale(0.95 1)" text-anchor="middle">35.99</text><text transform="translate(239.93 714.08) scale(0.95 1)" text-anchor="middle">21.76</text><text transform="translate(247.74 599.42) scale(0.95 1)" text-anchor="middle">62.12</text><text transform="translate(255.56 673.31) scale(0.95 1)" text-anchor="middle">36.11</text><text transform="translate(269.23 714.19) scale(0.95 1)" text-anchor="middle">21.72</text><text transform="translate(277.05 598.14) scale(0.95 1)" text-anchor="middle">62.57</text><text transform="translate(284.86 672.91) scale(0.95 1)" text-anchor="middle">36.25</text><text transform="translate(298.54 714.48) scale(0.95 1)" text-anchor="middle">21.62</text><text transform="translate(306.35 596.49) scale(0.95 1)" text-anchor="middle">63.15</text><text transform="translate(314.17 672.35) scale(0.95 1)" text-anchor="middle">36.45</text><text transform="translate(327.84 714.51) scale(0.95 1)" text-anchor="middle">21.61</text><text transform="translate(335.66 594.87) scale(0.95 1)" text-anchor="middle">63.72</text><text transform="translate(343.47 671.83) scale(0.95 1)" text-anchor="middle">36.63</text><text transform="translate(357.15 713.48) scale(0.95 1)" text-anchor="middle">21.97</text><text transform="translate(364.96 602.31) scale(0.95 1)" text-anchor="middle">61.10</text><text transform="translate(372.78 675.73) scale(0.95 1)" text-anchor="middle">35.26</text><text transform="translate(386.46 713.77) scale(0.95 1)" text-anchor="middle">21.87</text><text transform="translate(394.27 600.53) scale(0.95 1)" text-anchor="middle">61.73</text><text transform="translate(402.09 673.51) scale(0.95 1)" text-anchor="middle">36.04</text><text transform="translate(415.76 713.97) scale(0.95 1)" text-anchor="middle">21.80</text><text transform="translate(423.58 598.99) scale(0.95 1)" text-anchor="middle">62.27</text><text transform="translate(431.39 673.00) scale(0.95 1)" text-anchor="middle">36.22</text><text transform="translate(445.07 714.22) scale(0.95 1)" text-anchor="middle">21.71</text><text transform="translate(452.88 598.08) scale(0.95 1)" text-anchor="middle">62.59</text><text transform="translate(460.70 672.60) scale(0.95 1)" text-anchor="middle">36.36</text><text transform="translate(474.37 714.48) scale(0.95 1)" text-anchor="middle">21.62</text><text transform="translate(482.19 596.15) scale(0.95 1)" text-anchor="middle">63.27</text><text transform="translate(490.00 672.18) scale(0.95 1)" text-anchor="middle">36.51</text><text transform="translate(503.68 714.53) scale(0.95 1)" text-anchor="middle">21.60</text><text transform="translate(511.49 594.56) scale(0.95 1)" text-anchor="middle">63.83</text><text transform="translate(519.31 671.58) scale(0.95 1)" text-anchor="middle">36.72</text></g>
<rect x="42.60" y="558.70" width="498.20" height="227.30" fill="none" stroke="#000" stroke-width="1.2"/>
<path d="M42.00 786.00H541.40" stroke="#000" stroke-width="1.45" fill="none"/>
<path d="M71.91 786.00v7M101.21 786.00v7M130.52 786.00v7M159.82 786.00v7M189.13 786.00v7M218.44 786.00v7M247.74 786.00v7M277.05 786.00v7M306.35 786.00v7M335.66 786.00v7M364.96 786.00v7M394.27 786.00v7M423.58 786.00v7M452.88 786.00v7M482.19 786.00v7M511.49 786.00v7M42.60 786.00h-7.3M42.60 729.18h-7.3M42.60 672.36h-7.3M42.60 615.54h-7.3M42.60 558.72h-7.3" stroke="#000" stroke-width="1.25" fill="none"/>
<g font-size="8.2" fill="#111" stroke="#111" stroke-width="0.25"><text transform="translate(72.11 804.70) scale(0.87 1)" text-anchor="middle">S1</text><text transform="translate(101.41 804.70) scale(0.87 1)" text-anchor="middle">S2</text><text transform="translate(130.72 804.70) scale(0.87 1)" text-anchor="middle">S3</text><text transform="translate(160.02 804.70) scale(0.87 1)" text-anchor="middle">S4</text><text transform="translate(189.33 804.70) scale(0.87 1)" text-anchor="middle">S5</text><text transform="translate(218.64 804.70) scale(0.87 1)" text-anchor="middle">S6</text><text transform="translate(247.94 804.70) scale(0.87 1)" text-anchor="middle">S7</text><text transform="translate(277.25 804.70) scale(0.87 1)" text-anchor="middle">S8</text><text transform="translate(306.55 804.70) scale(0.87 1)" text-anchor="middle">S9</text><text transform="translate(335.86 804.70) scale(0.87 1)" text-anchor="middle">S10</text><text transform="translate(365.16 804.70) scale(0.87 1)" text-anchor="middle">S11</text><text transform="translate(394.47 804.70) scale(0.87 1)" text-anchor="middle">S12</text><text transform="translate(423.78 804.70) scale(0.87 1)" text-anchor="middle">S13</text><text transform="translate(453.08 804.70) scale(0.87 1)" text-anchor="middle">S14</text><text transform="translate(482.39 804.70) scale(0.87 1)" text-anchor="middle">S15</text><text transform="translate(511.69 804.70) scale(0.87 1)" text-anchor="middle">S16</text><text transform="translate(30.10 787.60) scale(0.97 1)" text-anchor="end">0</text><text transform="translate(30.10 730.78) scale(0.97 1)" text-anchor="end">20</text><text transform="translate(30.10 673.96) scale(0.97 1)" text-anchor="end">40</text><text transform="translate(30.10 617.14) scale(0.97 1)" text-anchor="end">60</text><text transform="translate(30.10 560.32) scale(0.97 1)" text-anchor="end">80</text></g>
<text transform="translate(14.90 672.70) rotate(-90) scale(1.07 1)" text-anchor="middle" font-size="9.35" fill="#111" stroke="#111" stroke-width="0.2">MRT in Summer (ºC)</text>
<rect x="388.10" y="566.40" width="123.00" height="11.50" fill="#fff" stroke="#8a8a8a" stroke-width="1"/>
<rect x="389.70" y="567.60" width="18.30" height="9.10" fill="#fcd9c9" stroke="#8a8a8a" stroke-width="1"/>
<text transform="translate(411.00 575.00) scale(0.92 1)" font-size="8.2" fill="#111" stroke="#111" stroke-width="0.25">Min</text>
<rect x="428.30" y="567.60" width="19.10" height="9.10" fill="#bfeade" stroke="#8a8a8a" stroke-width="1"/>
<text transform="translate(450.40 575.00) scale(0.92 1)" font-size="8.2" fill="#111" stroke="#111" stroke-width="0.25">Max</text>
<rect x="468.60" y="567.60" width="19.00" height="9.10" fill="#d2dbee" stroke="#8a8a8a" stroke-width="1"/>
<text transform="translate(490.00 575.00) scale(0.92 1)" font-size="8.2" fill="#111" stroke="#111" stroke-width="0.25">Mean</text>
</g>
<text x="272.7" y="278.2" text-anchor="middle" font-size="10.2" font-family='"Liberation Serif", serif' fill="#111" stroke="#111" stroke-width="0.25">(c)</text>
</svg></body></html>
